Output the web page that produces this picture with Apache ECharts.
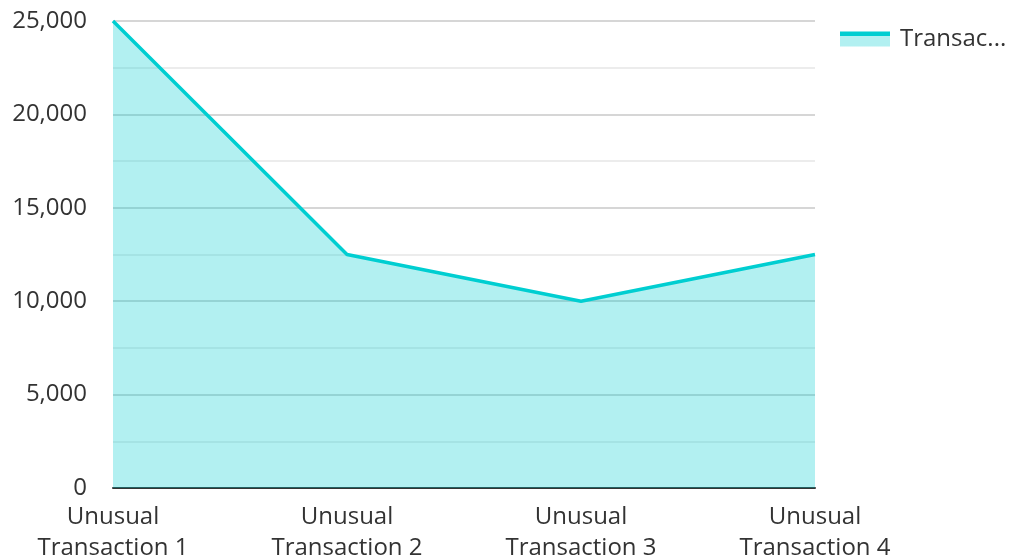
<!DOCTYPE html>
<html>
<head>
    <meta charset="utf-8">
    <title>Unusual Transactions</title>
    <script src="https://cdn.jsdelivr.net/npm/echarts@6/dist/echarts.min.js"></script>
</head>
<body style="margin:0">
    <div id="main" style="width:1010px;height:560px;"></div>
    <script type="text/javascript">
    var categories = ['Unusual\nTransaction 1', 'Unusual\nTransaction 2', 'Unusual\nTransaction 3', 'Unusual\nTransaction 4'];
    var amounts = [25000, 12500, 10000, 12500];
    var seriesName = 'Transaction Amount';
    var lineColor = '#00ced1';
    var fillColor = '#b2f0f1';

    var myChart = echarts.init(document.getElementById('main'));
    var option = {
        backgroundColor: '#ffffff',
        textStyle: { fontFamily: 'Open Sans' },
        grid: { left: 113, right: 195, top: 21, bottom: 72, outerBoundsMode: 'none', containLabel: false },
        legend: {
            left: 835,
            top: 22,
            itemWidth: 50,
            itemHeight: 15,
            itemGap: 10,
            icon: 'rect',
            itemStyle: {
                color: {
                    type: 'linear', x: 0, y: 0, x2: 0, y2: 1,
                    colorStops: [
                        { offset: 0, color: lineColor },
                        { offset: 0.27, color: lineColor },
                        { offset: 0.27, color: fillColor },
                        { offset: 1, color: fillColor }
                    ]
                }
            },
            textStyle: {
                fontSize: 24,
                color: '#333',
                width: 108,
                padding: [0, 0, 8, 5],
                overflow: 'truncate',
                ellipsis: '...'
            },
            data: [seriesName]
        },
        xAxis: {
            type: 'category',
            boundaryGap: false,
            data: categories,
            axisLine: { lineStyle: { color: '#333', width: 2 } },
            axisTick: { show: false },
            axisLabel: { fontSize: 24, color: '#333', lineHeight: 31, margin: 14 },
            splitLine: { show: false }
        },
        yAxis: {
            type: 'value',
            min: 0,
            max: 25000,
            interval: 5000,
            axisLine: { show: false },
            axisTick: { show: false },
            axisLabel: {
                fontSize: 24,
                color: '#333',
                margin: 26,
                formatter: function (v) { return v.toLocaleString('en-US'); }
            },
            splitLine: { lineStyle: { color: '#c8c8c8', width: 1.5 } },
            minorTick: { show: false, splitNumber: 2 },
            minorSplitLine: { show: true, lineStyle: { color: '#e6e6e6', width: 1.5 } }
        },
        series: [{
            name: seriesName,
            type: 'line',
            data: amounts,
            symbol: 'none',
            lineStyle: { color: lineColor, width: 3.5 },
            itemStyle: { color: lineColor },
            areaStyle: { color: lineColor, opacity: 0.3 },
            z: 1
        }]
    };
    myChart.setOption(option);
    </script>
</body>
</html>
